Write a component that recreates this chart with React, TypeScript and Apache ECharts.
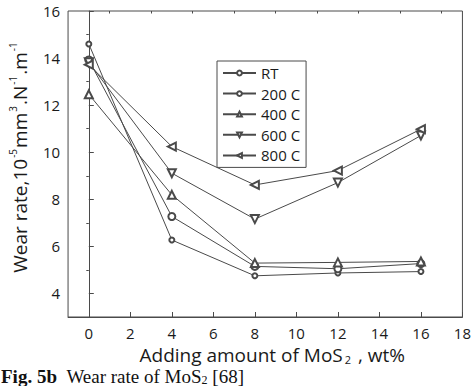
import React, { useEffect, useRef } from "react";
import * as echarts from "echarts";

const xValues = [0, 4, 8, 12, 16];
const seriesNames = ["RT", "200 C", "400 C", "600 C", "800 C"];
const rtValues = [14.6, 6.27, 4.75, 4.87, 4.93];
const c200Values = [13.92, 7.27, 5.15, 5.05, 5.27];
const c400Values = [12.46, 8.19, 5.29, 5.32, 5.36];
const c600Values = [13.82, 9.11, 7.16, 8.71, 10.71];
const c800Values = [13.72, 10.24, 8.61, 9.22, 10.98];
const xMajorTicks = [0, 2, 4, 6, 8, 10, 12, 14, 16, 18];
const xMinorTicks = [1, 3, 5, 7, 9, 11, 13, 15, 17];
const yMajorTicks = [4, 6, 8, 10, 12, 14, 16];
const yMinorTicks = [5, 7, 9, 11, 13, 15];

const FONT = "'Open Sans', sans-serif";
const SERIF = "'Liberation Serif', serif";
const LINE = "#4a4a4a";
const TEXT = "#1a1a1a";

export default function App() {
  const ref = useRef<HTMLDivElement>(null);
  useEffect(() => {
    if (!ref.current) return;
    const chart = echarts.init(ref.current, undefined, { renderer: "svg" });
    const mk = (name: string, vals: number[], symbol: string, size: number, rot: number) => ({
      name,
      type: "line",
      data: xValues.map((x, i) => [x, vals[i]]),
      symbol,
      symbolSize: size,
      symbolRotate: rot,
      showAllSymbol: true,
      lineStyle: { color: LINE, width: 1 },
      itemStyle: { color: LINE, borderColor: LINE, borderWidth: 1 },
      emphasis: { disabled: true },
      z: 3,
    });
    const baseX = {
      type: "value",
      min: -1,
      max: 18,
      gridIndex: 0,
      splitLine: { show: false },
    };
    const baseY = {
      type: "value",
      min: 3,
      max: 16,
      gridIndex: 0,
      splitLine: { show: false },
    };
    chart.setOption({
      animation: false,
      backgroundColor: "#fff",
      grid: {
        left: 59,
        top: 11,
        right: 9,
        bottom: 69,
        show: true,
        borderColor: LINE,
        borderWidth: 1,
        containLabel: false,
      },
      legend: {
        left: 217,
        top: 61,
        orient: "vertical",
        data: seriesNames,
        itemWidth: 33,
        itemHeight: 6,
        itemGap: 4.6,
        itemTextGap: 7,
        padding: [4, 6, 4, 5],
        borderColor: LINE,
        borderWidth: 1,
        textStyle: { fontFamily: FONT, fontSize: 15, color: TEXT, lineHeight: 16 },
      },
      xAxis: [
        {
          ...baseX,
          name: "Adding amount of MoS{s|2} , wt%",
          nameLocation: "middle",
          nameGap: 11,
          nameTextStyle: {
            fontFamily: FONT,
            fontSize: 19,
            color: TEXT,
            lineHeight: 20,
            padding: [0, 0, 0, 14],
            rich: {
              s: { fontFamily: FONT, fontSize: 11, color: TEXT, verticalAlign: "bottom", lineHeight: 16, padding: [0, 2, 0, 2] },
            },
          },
          axisLine: { show: true, lineStyle: { color: LINE, width: 1 } },
          axisTick: { show: true, inside: true, length: 5, customValues: xMajorTicks, lineStyle: { color: LINE } },
          axisLabel: { show: true, customValues: xMajorTicks, fontFamily: FONT, fontSize: 15, color: TEXT, margin: 8 },
        },
        {
          ...baseX,
          axisLine: { show: false },
          axisTick: { show: true, inside: true, length: 2.5, customValues: xMinorTicks, lineStyle: { color: LINE } },
          axisLabel: { show: false },
        },
      ],
      yAxis: [
        {
          ...baseY,
          name: "Wear rate,10{p|-5}mm{p|3}.N{p|-1}.m{p|-1}",
          nameLocation: "middle",
          nameGap: 31,
          nameTextStyle: {
            fontFamily: FONT,
            fontSize: 19,
            color: TEXT,
            lineHeight: 24,
            padding: [0, 0, 0, 14],
            rich: {
              p: { fontFamily: FONT, fontSize: 10, color: TEXT, verticalAlign: "top", lineHeight: 24, padding: [0, 1, 0, 1] },
            },
          },
          axisLine: { show: true, lineStyle: { color: LINE, width: 1 } },
          axisTick: { show: true, inside: true, length: 5, customValues: yMajorTicks, lineStyle: { color: LINE } },
          axisLabel: { show: true, customValues: yMajorTicks, fontFamily: FONT, fontSize: 15, color: TEXT, margin: 8 },
        },
        {
          ...baseY,
          axisLine: { show: false },
          axisTick: { show: true, inside: true, length: 2.5, customValues: yMinorTicks, lineStyle: { color: LINE } },
          axisLabel: { show: false },
        },
      ],
      series: [
        mk(seriesNames[0], rtValues, "emptyCircle", 5, 0),
        mk(seriesNames[1], c200Values, "emptyCircle", 7, 0),
        mk(seriesNames[2], c400Values, "emptyTriangle", 8, 0),
        mk(seriesNames[3], c600Values, "emptyTriangle", 8, 180),
        mk(seriesNames[4], c800Values, "emptyTriangle", 8, 90),
      ],
      graphic: [
        {
          type: "text",
          x: 1,
          y: 386,
          silent: true,
          style: {
            text: "{b|Fig. 5b}  {n|Wear rate of MoS}{s|2}{n| [68]}",
            fontFamily: SERIF,
            fontSize: 19,
            fill: "#111",
            verticalAlign: "bottom",
            rich: {
              b: { fontFamily: SERIF, fontSize: 19, fontWeight: "bold", fill: "#111", lineHeight: 19, verticalAlign: "bottom" },
              n: { fontFamily: SERIF, fontSize: 19, fill: "#111", lineHeight: 19, verticalAlign: "bottom" },
              s: { fontFamily: SERIF, fontSize: 12, fill: "#111", lineHeight: 13, verticalAlign: "bottom" },
            },
          },
        },
      ],
    });
    return () => chart.dispose();
  }, []);
  return (
    <div
      ref={ref}
      style={{ position: "fixed", left: 0, top: 0, width: 474, height: 386 }}
    />
  );
}
